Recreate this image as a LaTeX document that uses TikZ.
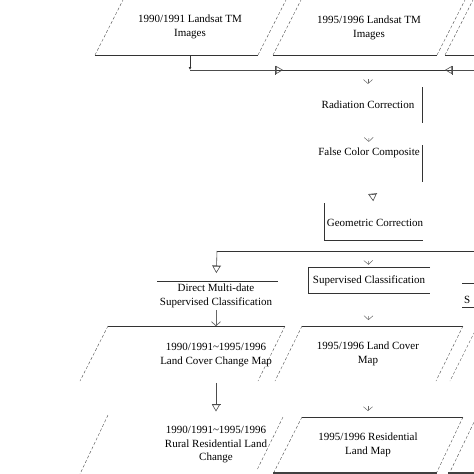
\documentclass[tikz,border=0pt]{standalone}
\usepackage{fontspec}
\setmainfont{Liberation Serif}
\usetikzlibrary{arrows.meta}
\begin{document}
\begin{tikzpicture}
[x=1pt,y=-1pt,
  textdecorate/.style={align=center,inner sep=0pt,font=\fontsize{11}{13.5}\selectfont},%
  linedecorate/.style={-,line width=0.8pt,black!80},%
  sidedecorate/.style={-,densely dashed,line width=0.4pt,black!70},%
  basedecorate/.style={-,line width=1.8pt,black!75},%
  veedecorate/.style={-{Straight Barb[open,length=4pt,width=9pt]},line width=0.5pt,black!60},%
  tridecorate/.style={-{Bar[width=9pt,sep=0pt]Triangle[open,length=7pt,width=8pt]},line width=0.6pt,black!70}]
\useasboundingbox (0,0) rectangle (474,474);
\clip (0,0) rectangle (474,474);
%% texts
\foreach \nodename/\x/\y/\txt in {
  imga/190/27/{1990/1991 Landsat TM\\Images},
  imgb/369/28/{1995/1996 Landsat TM\\Images},
  rad/368/105/{Radiation Correction},
  fcc/369/153/{False Color Composite},
  geo/375/223/{Geometric Correction},
  sup/369/281/{Supervised Classification},
  dmd/216/296/{Direct Multi-date\\Supervised Classification},
  lccm/216/355/{1990/1991\textasciitilde1995/1996\\Land Cover Change Map},
  lcm/368/354/{1995/1996 Land Cover\\Map},
  rrlc/216/445/{1990/1991\textasciitilde1995/1996\\Rural Residential Land\\Change},
  rlm/368/445/{1995/1996 Residential\\Land Map}} {
  \node (\nodename) at (\x,\y) [textdecorate] {\txt};
}
\node (ssup) at (464,300) [textdecorate,anchor=west] {S};
%% parallelograms: solid edges
\foreach \xa/\ya/\xb/\yb in {
  95/55/258/55, 273/55/437/55, 445/55/474/55,
  108/326/285/326, 302/326/463/326, 302/417/463/417} {
  \draw[linedecorate] (\xa,\ya) -- (\xb,\yb);
}
\foreach \xa/\xb in {273/437, 448/474} {
  \draw[basedecorate] (\xa,473) -- (\xb,473);
}
%% parallelograms: dashed sides
\foreach \xa/\ya/\xb/\yb in {
  95/55/123/0, 258/55/286/0, 273/55/301/0, 437/55/465/0, 445/55/473/0,
  108/326/80/381, 285/326/258/381, 302/326/275/381, 463/326/436/381, 477/327/450/381,
  108/415/80/474, 283/417/257/470, 302/417/273/474, 463/417/436/474, 476/418/449/474} {
  \draw[sidedecorate] (\xa,\ya) -- (\xb,\yb);
}
%% box fragments
\draw[linedecorate] (422,87) -- (422,123);
\draw[linedecorate] (422,145) -- (422,182);
\draw[linedecorate] (324,203) -- (324,240) -- (423,240);
\draw[linedecorate] (430,267) -- (308,267) -- (308,293) -- (430,293);
\draw[linedecorate] (157,281) -- (278,281);
\draw[linedecorate] (474,283) -- (462,283);
\draw[linedecorate] (462,307) -- (474,307);
%% bus lines
\coordinate (imgaport) at (190,55);
\coordinate (busleft) at (190,70);
\coordinate (busmid) at (368,70);
\coordinate (busright) at (474,70);
\coordinate (junca) at (283,70);
\coordinate (juncb) at (445,70);
\coordinate (bustwoleft) at (217,251);
\coordinate (bustwomid) at (368,251);
\coordinate (bustworight) at (474,251);
\draw[linedecorate,-{Latex[length=3pt,width=3pt]}] (imgaport) -- (busleft);
\draw[linedecorate] (busleft) -- (busright);
\draw[tridecorate] (busleft) -- (junca);
\draw[tridecorate] (busright) -- (juncb);
\draw[linedecorate] (bustwoleft) -- (bustworight);
%% arrows
\draw[veedecorate,shorten <=9pt,shorten >=17pt] (busmid) -- (rad.north);
\draw[veedecorate,shorten <=29pt,shorten >=6pt] (rad.south) -- (fcc.north);
\draw[tridecorate,shorten <=36pt,shorten >=18pt] (fcc.south) -- (geo.north);
\draw[veedecorate,shorten <=10pt,shorten >=11pt] (bustwomid) -- (sup.north);
\draw[veedecorate,shorten <=30pt,shorten >=22pt] (sup.south) -- (lcm.north);
\draw[veedecorate,shorten <=40pt,shorten >=22pt] (lcm.south) -- (rlm.north);
\draw[tridecorate,shorten >=11pt] (bustwoleft) -- (dmd.north);
\draw[veedecorate,line width=0.7pt,shorten <=2pt,shorten >=17pt] (dmd.south) -- (lccm.north);
\draw[tridecorate,shorten <=16pt,shorten >=15pt] (lccm.south) -- (rrlc.north);
\end{tikzpicture}
\end{document}
